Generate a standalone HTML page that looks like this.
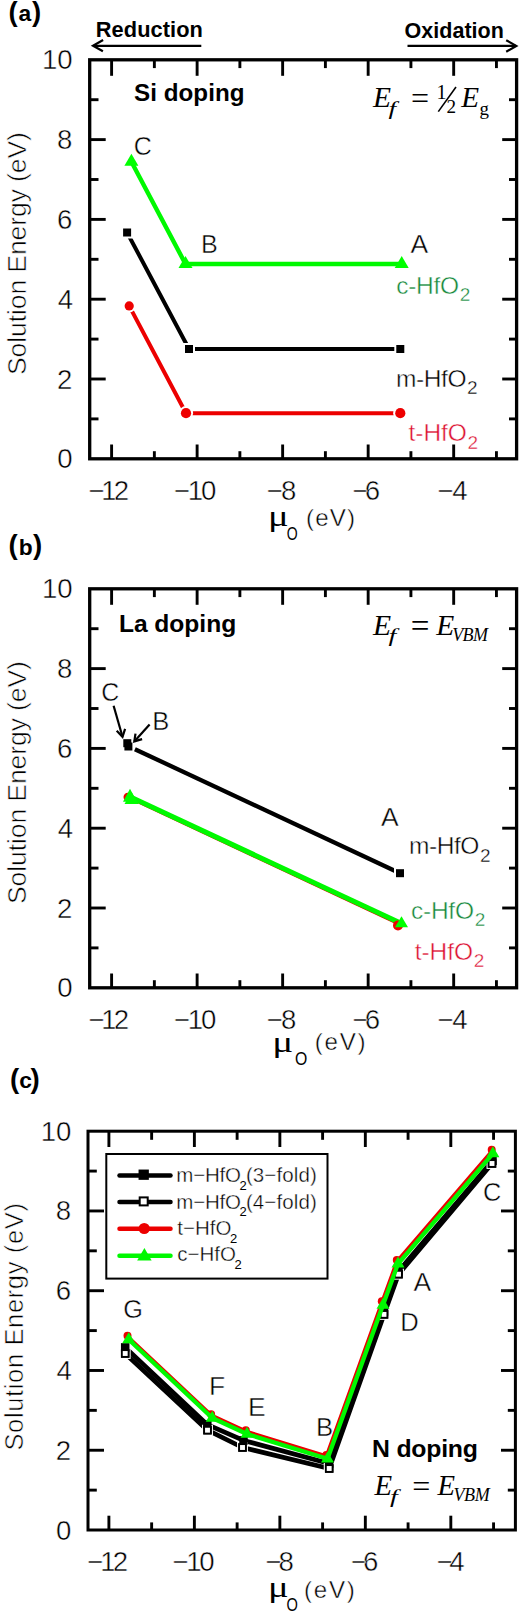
<!DOCTYPE html>
<html><head><meta charset="utf-8"><title>Solution energy vs oxygen chemical potential</title>
<style>html,body{margin:0;padding:0;background:#fff;} svg{display:block;}</style></head>
<body><svg width="520" height="1613" viewBox="0 0 520 1613">
<rect width="520" height="1613" fill="#fff"/>
<line x1="111.60" y1="59.80" x2="111.60" y2="75.80" stroke="#000" stroke-width="2.9" stroke-linecap="butt"/>
<line x1="111.60" y1="458.80" x2="111.60" y2="444.50" stroke="#000" stroke-width="2.9" stroke-linecap="butt"/>
<line x1="154.36" y1="59.80" x2="154.36" y2="68.10" stroke="#000" stroke-width="2.9" stroke-linecap="butt"/>
<line x1="154.36" y1="458.80" x2="154.36" y2="451.20" stroke="#000" stroke-width="2.9" stroke-linecap="butt"/>
<line x1="197.12" y1="59.80" x2="197.12" y2="75.80" stroke="#000" stroke-width="2.9" stroke-linecap="butt"/>
<line x1="197.12" y1="458.80" x2="197.12" y2="444.50" stroke="#000" stroke-width="2.9" stroke-linecap="butt"/>
<line x1="239.88" y1="59.80" x2="239.88" y2="68.10" stroke="#000" stroke-width="2.9" stroke-linecap="butt"/>
<line x1="239.88" y1="458.80" x2="239.88" y2="451.20" stroke="#000" stroke-width="2.9" stroke-linecap="butt"/>
<line x1="282.64" y1="59.80" x2="282.64" y2="75.80" stroke="#000" stroke-width="2.9" stroke-linecap="butt"/>
<line x1="282.64" y1="458.80" x2="282.64" y2="444.50" stroke="#000" stroke-width="2.9" stroke-linecap="butt"/>
<line x1="325.40" y1="59.80" x2="325.40" y2="68.10" stroke="#000" stroke-width="2.9" stroke-linecap="butt"/>
<line x1="325.40" y1="458.80" x2="325.40" y2="451.20" stroke="#000" stroke-width="2.9" stroke-linecap="butt"/>
<line x1="368.16" y1="59.80" x2="368.16" y2="75.80" stroke="#000" stroke-width="2.9" stroke-linecap="butt"/>
<line x1="368.16" y1="458.80" x2="368.16" y2="444.50" stroke="#000" stroke-width="2.9" stroke-linecap="butt"/>
<line x1="410.92" y1="59.80" x2="410.92" y2="68.10" stroke="#000" stroke-width="2.9" stroke-linecap="butt"/>
<line x1="410.92" y1="458.80" x2="410.92" y2="451.20" stroke="#000" stroke-width="2.9" stroke-linecap="butt"/>
<line x1="453.68" y1="59.80" x2="453.68" y2="75.80" stroke="#000" stroke-width="2.9" stroke-linecap="butt"/>
<line x1="453.68" y1="458.80" x2="453.68" y2="444.50" stroke="#000" stroke-width="2.9" stroke-linecap="butt"/>
<line x1="496.44" y1="59.80" x2="496.44" y2="68.10" stroke="#000" stroke-width="2.9" stroke-linecap="butt"/>
<line x1="496.44" y1="458.80" x2="496.44" y2="451.20" stroke="#000" stroke-width="2.9" stroke-linecap="butt"/>
<line x1="89.70" y1="418.90" x2="98.50" y2="418.90" stroke="#000" stroke-width="2.9" stroke-linecap="butt"/>
<line x1="516.60" y1="418.90" x2="509.00" y2="418.90" stroke="#000" stroke-width="2.9" stroke-linecap="butt"/>
<line x1="89.70" y1="379.00" x2="105.70" y2="379.00" stroke="#000" stroke-width="2.9" stroke-linecap="butt"/>
<line x1="516.60" y1="379.00" x2="502.20" y2="379.00" stroke="#000" stroke-width="2.9" stroke-linecap="butt"/>
<line x1="89.70" y1="339.10" x2="98.50" y2="339.10" stroke="#000" stroke-width="2.9" stroke-linecap="butt"/>
<line x1="516.60" y1="339.10" x2="509.00" y2="339.10" stroke="#000" stroke-width="2.9" stroke-linecap="butt"/>
<line x1="89.70" y1="299.20" x2="105.70" y2="299.20" stroke="#000" stroke-width="2.9" stroke-linecap="butt"/>
<line x1="516.60" y1="299.20" x2="502.20" y2="299.20" stroke="#000" stroke-width="2.9" stroke-linecap="butt"/>
<line x1="89.70" y1="259.30" x2="98.50" y2="259.30" stroke="#000" stroke-width="2.9" stroke-linecap="butt"/>
<line x1="516.60" y1="259.30" x2="509.00" y2="259.30" stroke="#000" stroke-width="2.9" stroke-linecap="butt"/>
<line x1="89.70" y1="219.40" x2="105.70" y2="219.40" stroke="#000" stroke-width="2.9" stroke-linecap="butt"/>
<line x1="516.60" y1="219.40" x2="502.20" y2="219.40" stroke="#000" stroke-width="2.9" stroke-linecap="butt"/>
<line x1="89.70" y1="179.50" x2="98.50" y2="179.50" stroke="#000" stroke-width="2.9" stroke-linecap="butt"/>
<line x1="516.60" y1="179.50" x2="509.00" y2="179.50" stroke="#000" stroke-width="2.9" stroke-linecap="butt"/>
<line x1="89.70" y1="139.60" x2="105.70" y2="139.60" stroke="#000" stroke-width="2.9" stroke-linecap="butt"/>
<line x1="516.60" y1="139.60" x2="502.20" y2="139.60" stroke="#000" stroke-width="2.9" stroke-linecap="butt"/>
<line x1="89.70" y1="99.70" x2="98.50" y2="99.70" stroke="#000" stroke-width="2.9" stroke-linecap="butt"/>
<line x1="516.60" y1="99.70" x2="509.00" y2="99.70" stroke="#000" stroke-width="2.9" stroke-linecap="butt"/>
<rect x="89.70" y="59.80" width="426.90" height="399.00" fill="none" stroke="#000" stroke-width="3.3"/>
<text x="57.30" y="468.30" font-family='"Liberation Sans", Arial, sans-serif' font-size="27.60" fill="#000" stroke="#fff" stroke-width="0.45">0</text>
<text x="57.05" y="388.62" font-family='"Liberation Sans", Arial, sans-serif' font-size="27.60" fill="#000" stroke="#fff" stroke-width="0.45">2</text>
<text x="57.80" y="308.70" font-family='"Liberation Sans", Arial, sans-serif' font-size="27.60" fill="#000" stroke="#fff" stroke-width="0.45">4</text>
<text x="57.05" y="228.90" font-family='"Liberation Sans", Arial, sans-serif' font-size="27.60" fill="#000" stroke="#fff" stroke-width="0.45">6</text>
<text x="57.05" y="149.10" font-family='"Liberation Sans", Arial, sans-serif' font-size="27.60" fill="#000" stroke="#fff" stroke-width="0.45">8</text>
<text x="41.95" y="69.30" font-family='"Liberation Sans", Arial, sans-serif' font-size="27.60" fill="#000" stroke="#fff" stroke-width="0.45">10</text>
<text x="88.15" y="500.40" font-family='"Liberation Sans", Arial, sans-serif' font-size="27.60" letter-spacing="-2.88" fill="#000" stroke="#fff" stroke-width="0.45">−12</text>
<text x="173.65" y="500.40" font-family='"Liberation Sans", Arial, sans-serif' font-size="27.60" letter-spacing="-2.05" fill="#000" stroke="#fff" stroke-width="0.45">−10</text>
<text x="266.55" y="500.40" font-family='"Liberation Sans", Arial, sans-serif' font-size="27.60" letter-spacing="-1.70" fill="#000" stroke="#fff" stroke-width="0.45">−8</text>
<text x="352.35" y="500.40" font-family='"Liberation Sans", Arial, sans-serif' font-size="27.60" letter-spacing="-3.70" fill="#000" stroke="#fff" stroke-width="0.45">−6</text>
<text x="437.35" y="500.40" font-family='"Liberation Sans", Arial, sans-serif' font-size="27.60" letter-spacing="-1.10" fill="#000" stroke="#fff" stroke-width="0.45">−4</text>
<text transform="translate(26.30,253.60) rotate(-90)" text-anchor="middle" font-family='"Liberation Sans", Arial, sans-serif' font-size="26.5" letter-spacing="-0.08" stroke="#fff" stroke-width="0.6">Solution Energy (eV)</text>
<text transform="translate(267.92,525.93) scale(1.300,1)" font-family='"Liberation Serif", "Times New Roman", serif' font-size="29.63" fill="#000">μ</text>
<text transform="translate(286.63,540.21) scale(0.737,1)" font-family='"Liberation Sans", Arial, sans-serif' font-size="19.08" fill="#000">O</text>
<text x="305.88" y="526.39" font-family='"Liberation Sans", Arial, sans-serif' font-size="24.13" letter-spacing="1.23" fill="#000" stroke="#fff" stroke-width="0.45">(eV)</text>
<text x="8.61" y="21.38" font-family='"Liberation Sans", Arial, sans-serif' font-size="27.56" font-weight="bold" fill="#000">(</text>
<text x="32.11" y="21.38" font-family='"Liberation Sans", Arial, sans-serif' font-size="27.56" font-weight="bold" fill="#000">)</text>
<text x="18.60" y="21.30" font-family='"Liberation Sans", Arial, sans-serif' font-size="22.80" font-weight="bold" fill="#000">a</text>
<text x="95.80" y="37.30" font-family='"Liberation Sans", Arial, sans-serif' font-size="21.80" font-weight="bold" letter-spacing="0.07" fill="#000">Reduction</text>
<text x="404.45" y="37.50" font-family='"Liberation Sans", Arial, sans-serif' font-size="21.50" font-weight="bold" letter-spacing="0.04" fill="#000">Oxidation</text>
<line x1="93.50" y1="45.80" x2="201.30" y2="45.80" stroke="#000" stroke-width="2.2" stroke-linecap="butt"/>
<polyline points="103.10,40.00 93.00,45.80 102.90,51.30" fill="none" stroke="#000" stroke-width="2.2" stroke-linejoin="miter" stroke-linecap="butt"/>
<line x1="407.50" y1="45.90" x2="515.80" y2="45.90" stroke="#000" stroke-width="2.2" stroke-linecap="butt"/>
<polyline points="506.20,40.20 516.30,45.90 506.20,51.70" fill="none" stroke="#000" stroke-width="2.2" stroke-linejoin="miter" stroke-linecap="butt"/>
<text x="134.00" y="100.80" font-family='"Liberation Sans", Arial, sans-serif' font-size="24.20" font-weight="bold" letter-spacing="0.04" fill="#000">Si doping</text>
<text x="373.02" y="107.10" font-family='"Liberation Serif", "Times New Roman", serif' font-size="29.47" font-style="italic" fill="#000">E</text>
<text transform="translate(388.53,114.67) scale(1.450,1)" font-family='"Liberation Serif", "Times New Roman", serif' font-size="18.96" font-style="italic" fill="#000">f</text>
<text x="410.94" y="109.45" font-family='"Liberation Serif", "Times New Roman", serif' font-size="32.04" fill="#000">=</text>
<text x="436.45" y="99.30" font-family='"Liberation Serif", "Times New Roman", serif' font-size="20.15" fill="#000">1</text>
<line x1="438.30" y1="111.60" x2="456.00" y2="87.00" stroke="#000" stroke-width="1.6" stroke-linecap="butt"/>
<text x="446.47" y="112.60" font-family='"Liberation Serif", "Times New Roman", serif' font-size="19.17" fill="#000">2</text>
<text x="461.16" y="107.20" font-family='"Liberation Serif", "Times New Roman", serif' font-size="29.16" font-style="italic" fill="#000">E</text>
<text x="479.42" y="114.62" font-family='"Liberation Serif", "Times New Roman", serif' font-size="18.97" fill="#000">g</text>
<polyline points="131.40,161.80 185.50,264.00 401.70,264.00" fill="none" stroke="#00f800" stroke-width="4.4" stroke-linejoin="round" stroke-linecap="butt"/>
<polyline points="127.10,232.50 189.00,349.00 400.30,349.00" fill="none" stroke="#000" stroke-width="4.0" stroke-linejoin="round" stroke-linecap="butt"/>
<polyline points="129.20,305.90 186.00,413.20 400.30,413.20" fill="none" stroke="#ec0000" stroke-width="4.0" stroke-linejoin="round" stroke-linecap="butt"/>
<polygon points="131.40,153.80 124.40,165.80 138.40,165.80" fill="#0f0"/>
<polygon points="185.50,256.00 178.50,268.00 192.50,268.00" fill="#0f0"/>
<polygon points="401.70,256.00 394.70,268.00 408.70,268.00" fill="#0f0"/>
<rect x="121.10" y="226.50" width="12.00" height="12.00" fill="#fff"/>
<rect x="123.10" y="228.50" width="8.00" height="8.00" fill="#000"/>
<rect x="183.00" y="343.00" width="12.00" height="12.00" fill="#fff"/>
<rect x="185.00" y="345.00" width="8.00" height="8.00" fill="#000"/>
<rect x="394.30" y="343.00" width="12.00" height="12.00" fill="#fff"/>
<rect x="396.30" y="345.00" width="8.00" height="8.00" fill="#000"/>
<circle cx="129.20" cy="305.90" r="6.60" fill="#fff"/>
<circle cx="129.20" cy="305.90" r="4.60" fill="#e00"/>
<circle cx="186.00" cy="413.20" r="7.10" fill="#fff"/>
<circle cx="186.00" cy="413.20" r="5.10" fill="#e00"/>
<circle cx="400.30" cy="413.20" r="7.10" fill="#fff"/>
<circle cx="400.30" cy="413.20" r="5.10" fill="#e00"/>
<text x="133.77" y="155.15" font-family='"Liberation Sans", Arial, sans-serif' font-size="25.02" fill="#000" stroke="#fff" stroke-width="0.45">C</text>
<text x="201.01" y="252.50" font-family='"Liberation Sans", Arial, sans-serif' font-size="25.16" fill="#000" stroke="#fff" stroke-width="0.45">B</text>
<text x="410.47" y="253.10" font-family='"Liberation Sans", Arial, sans-serif' font-size="26.47" fill="#000" stroke="#fff" stroke-width="0.45">A</text>
<text x="396.20" y="294.00" font-family='"Liberation Sans", Arial, sans-serif' font-size="24.50" letter-spacing="-0.28" fill="#15883a" stroke="#fff" stroke-width="0.45">c-HfO</text>
<text x="459.80" y="301.30" font-family='"Liberation Sans", Arial, sans-serif' font-size="19.00" fill="#15883a" stroke="#fff" stroke-width="0.36">2</text>
<text x="396.00" y="386.80" font-family='"Liberation Sans", Arial, sans-serif' font-size="24.50" letter-spacing="-0.40" fill="#000" stroke="#fff" stroke-width="0.45">m-HfO</text>
<text x="467.10" y="394.10" font-family='"Liberation Sans", Arial, sans-serif' font-size="19.00" fill="#000" stroke="#fff" stroke-width="0.36">2</text>
<text x="408.55" y="441.30" font-family='"Liberation Sans", Arial, sans-serif' font-size="24.50" letter-spacing="-0.06" fill="#dc1030" stroke="#fff" stroke-width="0.45">t-HfO</text>
<text x="467.50" y="448.60" font-family='"Liberation Sans", Arial, sans-serif' font-size="19.00" fill="#dc1030" stroke="#fff" stroke-width="0.36">2</text>
<line x1="111.60" y1="588.80" x2="111.60" y2="604.80" stroke="#000" stroke-width="2.9" stroke-linecap="butt"/>
<line x1="111.60" y1="987.80" x2="111.60" y2="973.50" stroke="#000" stroke-width="2.9" stroke-linecap="butt"/>
<line x1="154.36" y1="588.80" x2="154.36" y2="597.10" stroke="#000" stroke-width="2.9" stroke-linecap="butt"/>
<line x1="154.36" y1="987.80" x2="154.36" y2="980.20" stroke="#000" stroke-width="2.9" stroke-linecap="butt"/>
<line x1="197.12" y1="588.80" x2="197.12" y2="604.80" stroke="#000" stroke-width="2.9" stroke-linecap="butt"/>
<line x1="197.12" y1="987.80" x2="197.12" y2="973.50" stroke="#000" stroke-width="2.9" stroke-linecap="butt"/>
<line x1="239.88" y1="588.80" x2="239.88" y2="597.10" stroke="#000" stroke-width="2.9" stroke-linecap="butt"/>
<line x1="239.88" y1="987.80" x2="239.88" y2="980.20" stroke="#000" stroke-width="2.9" stroke-linecap="butt"/>
<line x1="282.64" y1="588.80" x2="282.64" y2="604.80" stroke="#000" stroke-width="2.9" stroke-linecap="butt"/>
<line x1="282.64" y1="987.80" x2="282.64" y2="973.50" stroke="#000" stroke-width="2.9" stroke-linecap="butt"/>
<line x1="325.40" y1="588.80" x2="325.40" y2="597.10" stroke="#000" stroke-width="2.9" stroke-linecap="butt"/>
<line x1="325.40" y1="987.80" x2="325.40" y2="980.20" stroke="#000" stroke-width="2.9" stroke-linecap="butt"/>
<line x1="368.16" y1="588.80" x2="368.16" y2="604.80" stroke="#000" stroke-width="2.9" stroke-linecap="butt"/>
<line x1="368.16" y1="987.80" x2="368.16" y2="973.50" stroke="#000" stroke-width="2.9" stroke-linecap="butt"/>
<line x1="410.92" y1="588.80" x2="410.92" y2="597.10" stroke="#000" stroke-width="2.9" stroke-linecap="butt"/>
<line x1="410.92" y1="987.80" x2="410.92" y2="980.20" stroke="#000" stroke-width="2.9" stroke-linecap="butt"/>
<line x1="453.68" y1="588.80" x2="453.68" y2="604.80" stroke="#000" stroke-width="2.9" stroke-linecap="butt"/>
<line x1="453.68" y1="987.80" x2="453.68" y2="973.50" stroke="#000" stroke-width="2.9" stroke-linecap="butt"/>
<line x1="496.44" y1="588.80" x2="496.44" y2="597.10" stroke="#000" stroke-width="2.9" stroke-linecap="butt"/>
<line x1="496.44" y1="987.80" x2="496.44" y2="980.20" stroke="#000" stroke-width="2.9" stroke-linecap="butt"/>
<line x1="89.70" y1="947.90" x2="98.50" y2="947.90" stroke="#000" stroke-width="2.9" stroke-linecap="butt"/>
<line x1="516.60" y1="947.90" x2="509.00" y2="947.90" stroke="#000" stroke-width="2.9" stroke-linecap="butt"/>
<line x1="89.70" y1="908.00" x2="105.70" y2="908.00" stroke="#000" stroke-width="2.9" stroke-linecap="butt"/>
<line x1="516.60" y1="908.00" x2="502.20" y2="908.00" stroke="#000" stroke-width="2.9" stroke-linecap="butt"/>
<line x1="89.70" y1="868.10" x2="98.50" y2="868.10" stroke="#000" stroke-width="2.9" stroke-linecap="butt"/>
<line x1="516.60" y1="868.10" x2="509.00" y2="868.10" stroke="#000" stroke-width="2.9" stroke-linecap="butt"/>
<line x1="89.70" y1="828.20" x2="105.70" y2="828.20" stroke="#000" stroke-width="2.9" stroke-linecap="butt"/>
<line x1="516.60" y1="828.20" x2="502.20" y2="828.20" stroke="#000" stroke-width="2.9" stroke-linecap="butt"/>
<line x1="89.70" y1="788.30" x2="98.50" y2="788.30" stroke="#000" stroke-width="2.9" stroke-linecap="butt"/>
<line x1="516.60" y1="788.30" x2="509.00" y2="788.30" stroke="#000" stroke-width="2.9" stroke-linecap="butt"/>
<line x1="89.70" y1="748.40" x2="105.70" y2="748.40" stroke="#000" stroke-width="2.9" stroke-linecap="butt"/>
<line x1="516.60" y1="748.40" x2="502.20" y2="748.40" stroke="#000" stroke-width="2.9" stroke-linecap="butt"/>
<line x1="89.70" y1="708.50" x2="98.50" y2="708.50" stroke="#000" stroke-width="2.9" stroke-linecap="butt"/>
<line x1="516.60" y1="708.50" x2="509.00" y2="708.50" stroke="#000" stroke-width="2.9" stroke-linecap="butt"/>
<line x1="89.70" y1="668.60" x2="105.70" y2="668.60" stroke="#000" stroke-width="2.9" stroke-linecap="butt"/>
<line x1="516.60" y1="668.60" x2="502.20" y2="668.60" stroke="#000" stroke-width="2.9" stroke-linecap="butt"/>
<line x1="89.70" y1="628.70" x2="98.50" y2="628.70" stroke="#000" stroke-width="2.9" stroke-linecap="butt"/>
<line x1="516.60" y1="628.70" x2="509.00" y2="628.70" stroke="#000" stroke-width="2.9" stroke-linecap="butt"/>
<rect x="89.70" y="588.80" width="426.90" height="399.00" fill="none" stroke="#000" stroke-width="3.3"/>
<text x="57.30" y="997.30" font-family='"Liberation Sans", Arial, sans-serif' font-size="27.60" fill="#000" stroke="#fff" stroke-width="0.45">0</text>
<text x="57.05" y="917.62" font-family='"Liberation Sans", Arial, sans-serif' font-size="27.60" fill="#000" stroke="#fff" stroke-width="0.45">2</text>
<text x="57.80" y="837.70" font-family='"Liberation Sans", Arial, sans-serif' font-size="27.60" fill="#000" stroke="#fff" stroke-width="0.45">4</text>
<text x="57.05" y="757.90" font-family='"Liberation Sans", Arial, sans-serif' font-size="27.60" fill="#000" stroke="#fff" stroke-width="0.45">6</text>
<text x="57.05" y="678.10" font-family='"Liberation Sans", Arial, sans-serif' font-size="27.60" fill="#000" stroke="#fff" stroke-width="0.45">8</text>
<text x="41.95" y="598.30" font-family='"Liberation Sans", Arial, sans-serif' font-size="27.60" fill="#000" stroke="#fff" stroke-width="0.45">10</text>
<text x="88.15" y="1029.40" font-family='"Liberation Sans", Arial, sans-serif' font-size="27.60" letter-spacing="-2.88" fill="#000" stroke="#fff" stroke-width="0.45">−12</text>
<text x="173.65" y="1029.40" font-family='"Liberation Sans", Arial, sans-serif' font-size="27.60" letter-spacing="-2.05" fill="#000" stroke="#fff" stroke-width="0.45">−10</text>
<text x="266.55" y="1029.40" font-family='"Liberation Sans", Arial, sans-serif' font-size="27.60" letter-spacing="-1.70" fill="#000" stroke="#fff" stroke-width="0.45">−8</text>
<text x="352.35" y="1029.40" font-family='"Liberation Sans", Arial, sans-serif' font-size="27.60" letter-spacing="-3.70" fill="#000" stroke="#fff" stroke-width="0.45">−6</text>
<text x="437.35" y="1029.40" font-family='"Liberation Sans", Arial, sans-serif' font-size="27.60" letter-spacing="-1.10" fill="#000" stroke="#fff" stroke-width="0.45">−4</text>
<text transform="translate(26.30,782.60) rotate(-90)" text-anchor="middle" font-family='"Liberation Sans", Arial, sans-serif' font-size="26.5" letter-spacing="-0.08" stroke="#fff" stroke-width="0.6">Solution Energy (eV)</text>
<text transform="translate(272.17,1052.33) scale(1.300,1)" font-family='"Liberation Serif", "Times New Roman", serif' font-size="30.07" fill="#000">μ</text>
<text transform="translate(294.95,1064.81) scale(0.829,1)" font-family='"Liberation Sans", Arial, sans-serif' font-size="19.08" fill="#000">O</text>
<text x="314.68" y="1049.79" font-family='"Liberation Sans", Arial, sans-serif' font-size="24.13" letter-spacing="1.80" fill="#000" stroke="#fff" stroke-width="0.45">(eV)</text>
<text x="8.47" y="554.46" font-family='"Liberation Sans", Arial, sans-serif' font-size="27.67" font-weight="bold" fill="#000">(</text>
<text x="32.92" y="554.46" font-family='"Liberation Sans", Arial, sans-serif' font-size="27.67" font-weight="bold" fill="#000">)</text>
<text x="18.70" y="554.80" font-family='"Liberation Sans", Arial, sans-serif' font-size="22.80" font-weight="bold" fill="#000">b</text>
<text x="118.90" y="632.40" font-family='"Liberation Sans", Arial, sans-serif' font-size="24.60" font-weight="bold" letter-spacing="-0.02" fill="#000">La doping</text>
<text x="373.07" y="634.60" font-family='"Liberation Serif", "Times New Roman", serif' font-size="29.62" font-style="italic" fill="#000">E</text>
<text transform="translate(388.52,642.10) scale(1.450,1)" font-family='"Liberation Serif", "Times New Roman", serif' font-size="19.29" font-style="italic" fill="#000">f</text>
<text x="410.72" y="637.37" font-family='"Liberation Serif", "Times New Roman", serif' font-size="33.12" fill="#000">=</text>
<text x="436.22" y="634.80" font-family='"Liberation Serif", "Times New Roman", serif' font-size="29.47" font-style="italic" fill="#000">E</text>
<text x="452.20" y="641.00" font-family='"Liberation Serif", "Times New Roman", serif' font-size="18.00" font-style="italic" letter-spacing="-0.62" fill="#000">VBM</text>
<polyline points="130.50,797.80 400.50,924.20" fill="none" stroke="#ec0000" stroke-width="4.0" stroke-linejoin="round" stroke-linecap="butt"/>
<polyline points="130.50,797.00 401.50,923.60" fill="none" stroke="#00f800" stroke-width="5.0" stroke-linejoin="round" stroke-linecap="butt"/>
<polyline points="134.90,749.20 400.00,873.20" fill="none" stroke="#000" stroke-width="4.3" stroke-linejoin="round" stroke-linecap="butt"/>
<circle cx="127.80" cy="797.00" r="4.30" fill="#e00"/>
<polygon points="130.00,788.83 123.00,801.83 137.00,801.83" fill="#0f0"/>
<polygon points="131.50,792.00 124.50,804.00 138.50,804.00" fill="#0f0"/>
<circle cx="398.00" cy="925.40" r="5.00" fill="#e00"/>
<polygon points="401.50,916.27 395.00,927.27 408.00,927.27" fill="#0f0"/>
<rect x="123.30" y="739.20" width="8.00" height="8.00" fill="#000"/>
<rect x="124.40" y="742.50" width="8.00" height="8.00" fill="#000"/>
<rect x="394.00" y="867.20" width="12.00" height="12.00" fill="#fff"/>
<rect x="396.00" y="869.20" width="8.00" height="8.00" fill="#000"/>
<polyline points="113.60,705.70 122.50,736.80" fill="none" stroke="#000" stroke-width="2.2" stroke-linejoin="round" stroke-linecap="butt"/>
<polyline points="116.70,730.80 122.50,736.80 125.10,728.80" fill="none" stroke="#000" stroke-width="2.2" stroke-linejoin="miter" stroke-linecap="butt"/>
<polyline points="149.60,724.40 134.30,741.40" fill="none" stroke="#000" stroke-width="2.2" stroke-linejoin="round" stroke-linecap="butt"/>
<polyline points="135.50,733.70 134.30,741.40 142.10,739.10" fill="none" stroke="#000" stroke-width="2.2" stroke-linejoin="miter" stroke-linecap="butt"/>
<text x="101.23" y="700.55" font-family='"Liberation Sans", Arial, sans-serif' font-size="24.88" fill="#000" stroke="#fff" stroke-width="0.45">C</text>
<text x="152.30" y="730.20" font-family='"Liberation Sans", Arial, sans-serif' font-size="25.60" fill="#000" stroke="#fff" stroke-width="0.45">B</text>
<text x="381.07" y="826.30" font-family='"Liberation Sans", Arial, sans-serif' font-size="26.47" fill="#000" stroke="#fff" stroke-width="0.45">A</text>
<text x="408.90" y="854.20" font-family='"Liberation Sans", Arial, sans-serif' font-size="24.50" letter-spacing="-0.40" fill="#000" stroke="#fff" stroke-width="0.45">m-HfO</text>
<text x="480.00" y="861.50" font-family='"Liberation Sans", Arial, sans-serif' font-size="19.00" fill="#000" stroke="#fff" stroke-width="0.36">2</text>
<text x="411.10" y="918.60" font-family='"Liberation Sans", Arial, sans-serif' font-size="24.50" letter-spacing="-0.28" fill="#15883a" stroke="#fff" stroke-width="0.45">c-HfO</text>
<text x="474.70" y="925.90" font-family='"Liberation Sans", Arial, sans-serif' font-size="19.00" fill="#15883a" stroke="#fff" stroke-width="0.36">2</text>
<text x="414.75" y="960.00" font-family='"Liberation Sans", Arial, sans-serif' font-size="24.50" letter-spacing="-0.06" fill="#dc1030" stroke="#fff" stroke-width="0.45">t-HfO</text>
<text x="473.70" y="967.30" font-family='"Liberation Sans", Arial, sans-serif' font-size="19.00" fill="#dc1030" stroke="#fff" stroke-width="0.36">2</text>
<line x1="108.90" y1="1131.20" x2="108.90" y2="1147.00" stroke="#000" stroke-width="2.9" stroke-linecap="butt"/>
<line x1="108.90" y1="1530.00" x2="108.90" y2="1515.70" stroke="#000" stroke-width="2.9" stroke-linecap="butt"/>
<line x1="151.64" y1="1131.20" x2="151.64" y2="1139.80" stroke="#000" stroke-width="2.9" stroke-linecap="butt"/>
<line x1="151.64" y1="1530.00" x2="151.64" y2="1522.40" stroke="#000" stroke-width="2.9" stroke-linecap="butt"/>
<line x1="194.38" y1="1131.20" x2="194.38" y2="1147.00" stroke="#000" stroke-width="2.9" stroke-linecap="butt"/>
<line x1="194.38" y1="1530.00" x2="194.38" y2="1515.70" stroke="#000" stroke-width="2.9" stroke-linecap="butt"/>
<line x1="237.12" y1="1131.20" x2="237.12" y2="1139.80" stroke="#000" stroke-width="2.9" stroke-linecap="butt"/>
<line x1="237.12" y1="1530.00" x2="237.12" y2="1522.40" stroke="#000" stroke-width="2.9" stroke-linecap="butt"/>
<line x1="279.86" y1="1131.20" x2="279.86" y2="1147.00" stroke="#000" stroke-width="2.9" stroke-linecap="butt"/>
<line x1="279.86" y1="1530.00" x2="279.86" y2="1515.70" stroke="#000" stroke-width="2.9" stroke-linecap="butt"/>
<line x1="322.60" y1="1131.20" x2="322.60" y2="1139.80" stroke="#000" stroke-width="2.9" stroke-linecap="butt"/>
<line x1="322.60" y1="1530.00" x2="322.60" y2="1522.40" stroke="#000" stroke-width="2.9" stroke-linecap="butt"/>
<line x1="365.34" y1="1131.20" x2="365.34" y2="1147.00" stroke="#000" stroke-width="2.9" stroke-linecap="butt"/>
<line x1="365.34" y1="1530.00" x2="365.34" y2="1515.70" stroke="#000" stroke-width="2.9" stroke-linecap="butt"/>
<line x1="408.08" y1="1131.20" x2="408.08" y2="1139.80" stroke="#000" stroke-width="2.9" stroke-linecap="butt"/>
<line x1="408.08" y1="1530.00" x2="408.08" y2="1522.40" stroke="#000" stroke-width="2.9" stroke-linecap="butt"/>
<line x1="450.82" y1="1131.20" x2="450.82" y2="1147.00" stroke="#000" stroke-width="2.9" stroke-linecap="butt"/>
<line x1="450.82" y1="1530.00" x2="450.82" y2="1515.70" stroke="#000" stroke-width="2.9" stroke-linecap="butt"/>
<line x1="493.56" y1="1131.20" x2="493.56" y2="1139.80" stroke="#000" stroke-width="2.9" stroke-linecap="butt"/>
<line x1="493.56" y1="1530.00" x2="493.56" y2="1522.40" stroke="#000" stroke-width="2.9" stroke-linecap="butt"/>
<line x1="88.00" y1="1490.12" x2="96.80" y2="1490.12" stroke="#000" stroke-width="2.9" stroke-linecap="butt"/>
<line x1="515.40" y1="1490.12" x2="507.80" y2="1490.12" stroke="#000" stroke-width="2.9" stroke-linecap="butt"/>
<line x1="88.00" y1="1450.24" x2="104.00" y2="1450.24" stroke="#000" stroke-width="2.9" stroke-linecap="butt"/>
<line x1="515.40" y1="1450.24" x2="501.00" y2="1450.24" stroke="#000" stroke-width="2.9" stroke-linecap="butt"/>
<line x1="88.00" y1="1410.36" x2="96.80" y2="1410.36" stroke="#000" stroke-width="2.9" stroke-linecap="butt"/>
<line x1="515.40" y1="1410.36" x2="507.80" y2="1410.36" stroke="#000" stroke-width="2.9" stroke-linecap="butt"/>
<line x1="88.00" y1="1370.48" x2="104.00" y2="1370.48" stroke="#000" stroke-width="2.9" stroke-linecap="butt"/>
<line x1="515.40" y1="1370.48" x2="501.00" y2="1370.48" stroke="#000" stroke-width="2.9" stroke-linecap="butt"/>
<line x1="88.00" y1="1330.60" x2="96.80" y2="1330.60" stroke="#000" stroke-width="2.9" stroke-linecap="butt"/>
<line x1="515.40" y1="1330.60" x2="507.80" y2="1330.60" stroke="#000" stroke-width="2.9" stroke-linecap="butt"/>
<line x1="88.00" y1="1290.72" x2="104.00" y2="1290.72" stroke="#000" stroke-width="2.9" stroke-linecap="butt"/>
<line x1="515.40" y1="1290.72" x2="501.00" y2="1290.72" stroke="#000" stroke-width="2.9" stroke-linecap="butt"/>
<line x1="88.00" y1="1250.84" x2="96.80" y2="1250.84" stroke="#000" stroke-width="2.9" stroke-linecap="butt"/>
<line x1="515.40" y1="1250.84" x2="507.80" y2="1250.84" stroke="#000" stroke-width="2.9" stroke-linecap="butt"/>
<line x1="88.00" y1="1210.96" x2="104.00" y2="1210.96" stroke="#000" stroke-width="2.9" stroke-linecap="butt"/>
<line x1="515.40" y1="1210.96" x2="501.00" y2="1210.96" stroke="#000" stroke-width="2.9" stroke-linecap="butt"/>
<line x1="88.00" y1="1171.08" x2="96.80" y2="1171.08" stroke="#000" stroke-width="2.9" stroke-linecap="butt"/>
<line x1="515.40" y1="1171.08" x2="507.80" y2="1171.08" stroke="#000" stroke-width="2.9" stroke-linecap="butt"/>
<rect x="88.00" y="1131.20" width="427.40" height="398.80" fill="none" stroke="#000" stroke-width="3.0"/>
<text x="56.10" y="1539.50" font-family='"Liberation Sans", Arial, sans-serif' font-size="27.60" fill="#000" stroke="#fff" stroke-width="0.45">0</text>
<text x="55.85" y="1459.87" font-family='"Liberation Sans", Arial, sans-serif' font-size="27.60" fill="#000" stroke="#fff" stroke-width="0.45">2</text>
<text x="56.60" y="1379.98" font-family='"Liberation Sans", Arial, sans-serif' font-size="27.60" fill="#000" stroke="#fff" stroke-width="0.45">4</text>
<text x="55.85" y="1300.22" font-family='"Liberation Sans", Arial, sans-serif' font-size="27.60" fill="#000" stroke="#fff" stroke-width="0.45">6</text>
<text x="55.85" y="1220.46" font-family='"Liberation Sans", Arial, sans-serif' font-size="27.60" fill="#000" stroke="#fff" stroke-width="0.45">8</text>
<text x="40.75" y="1140.70" font-family='"Liberation Sans", Arial, sans-serif' font-size="27.60" fill="#000" stroke="#fff" stroke-width="0.45">10</text>
<text x="87.10" y="1571.30" font-family='"Liberation Sans", Arial, sans-serif' font-size="27.60" letter-spacing="-2.90" fill="#000" stroke="#fff" stroke-width="0.45">−12</text>
<text x="172.35" y="1571.30" font-family='"Liberation Sans", Arial, sans-serif' font-size="27.60" letter-spacing="-2.25" fill="#000" stroke="#fff" stroke-width="0.45">−10</text>
<text x="265.35" y="1571.30" font-family='"Liberation Sans", Arial, sans-serif' font-size="27.60" letter-spacing="-3.00" fill="#000" stroke="#fff" stroke-width="0.45">−8</text>
<text x="350.85" y="1571.30" font-family='"Liberation Sans", Arial, sans-serif' font-size="27.60" letter-spacing="-4.00" fill="#000" stroke="#fff" stroke-width="0.45">−6</text>
<text x="436.55" y="1571.30" font-family='"Liberation Sans", Arial, sans-serif' font-size="27.60" letter-spacing="-3.40" fill="#000" stroke="#fff" stroke-width="0.45">−4</text>
<text transform="translate(22.80,1326.50) rotate(-90)" text-anchor="middle" font-family='"Liberation Sans", Arial, sans-serif' font-size="25.5" letter-spacing="0.64" stroke="#fff" stroke-width="0.6">Solution Energy (eV)</text>
<text transform="translate(268.12,1597.13) scale(1.300,1)" font-family='"Liberation Serif", "Times New Roman", serif' font-size="29.63" fill="#000">μ</text>
<text transform="translate(286.60,1611.01) scale(0.791,1)" font-family='"Liberation Sans", Arial, sans-serif' font-size="18.52" fill="#000">O</text>
<text x="303.88" y="1597.69" font-family='"Liberation Sans", Arial, sans-serif' font-size="24.13" letter-spacing="1.80" fill="#000" stroke="#fff" stroke-width="0.45">(eV)</text>
<text x="9.97" y="1087.56" font-family='"Liberation Sans", Arial, sans-serif' font-size="27.67" font-weight="bold" fill="#000">(</text>
<text x="30.62" y="1087.56" font-family='"Liberation Sans", Arial, sans-serif' font-size="27.67" font-weight="bold" fill="#000">)</text>
<text x="19.18" y="1088.10" font-family='"Liberation Sans", Arial, sans-serif' font-size="22.80" font-weight="bold" fill="#000">c</text>
<rect x="106.3" y="1154" width="221.2" height="124.6" fill="#fff" stroke="#000" stroke-width="2"/>
<line x1="119.50" y1="1175.50" x2="170.50" y2="1175.50" stroke="#000" stroke-width="4.5" stroke-linecap="round"/>
<rect x="138.55" y="1169.55" width="10.30" height="10.30" fill="#000"/>
<text x="176.25" y="1182.40" font-family='"Liberation Sans", Arial, sans-serif' font-size="20.50" letter-spacing="-0.19" fill="#000" stroke="#fff" stroke-width="0.38">m−HfO</text>
<text x="239.55" y="1189.90" font-family='"Liberation Sans", Arial, sans-serif' font-size="13.00" fill="#000">2</text>
<text x="245.95" y="1182.40" font-family='"Liberation Sans", Arial, sans-serif' font-size="20.50" letter-spacing="0.10" fill="#000" stroke="#fff" stroke-width="0.38">(3−fold)</text>
<line x1="119.50" y1="1202.10" x2="170.50" y2="1202.10" stroke="#000" stroke-width="4.5" stroke-linecap="round"/>
<rect x="139.70" y="1197.40" width="8.00" height="8.00" fill="#fff" stroke="#000" stroke-width="2"/>
<text x="176.25" y="1208.80" font-family='"Liberation Sans", Arial, sans-serif' font-size="20.50" letter-spacing="-0.19" fill="#000" stroke="#fff" stroke-width="0.38">m−HfO</text>
<text x="239.55" y="1216.30" font-family='"Liberation Sans", Arial, sans-serif' font-size="13.00" fill="#000">2</text>
<text x="245.95" y="1208.80" font-family='"Liberation Sans", Arial, sans-serif' font-size="20.50" letter-spacing="0.10" fill="#000" stroke="#fff" stroke-width="0.38">(4−fold)</text>
<line x1="119.50" y1="1228.80" x2="170.50" y2="1228.80" stroke="#ec0000" stroke-width="4.5" stroke-linecap="round"/>
<circle cx="144.20" cy="1228.50" r="5.60" fill="#ec0000"/>
<text x="177.25" y="1235.20" font-family='"Liberation Sans", Arial, sans-serif' font-size="20.50" fill="#000" stroke="#fff" stroke-width="0.38">t−HfO</text>
<text x="230.05" y="1242.70" font-family='"Liberation Sans", Arial, sans-serif' font-size="13.00" fill="#000">2</text>
<line x1="119.50" y1="1255.80" x2="170.50" y2="1255.80" stroke="#00f800" stroke-width="4.5" stroke-linecap="round"/>
<polygon points="144.40,1247.97 137.15,1260.47 151.65,1260.47" fill="#00f800"/>
<text x="177.25" y="1261.40" font-family='"Liberation Sans", Arial, sans-serif' font-size="20.50" fill="#000" stroke="#fff" stroke-width="0.38">c−HfO</text>
<text x="234.55" y="1268.90" font-family='"Liberation Sans", Arial, sans-serif' font-size="13.00" fill="#000">2</text>
<polyline points="125.20,1353.50 207.50,1430.20 242.50,1447.50 329.20,1468.50 384.00,1314.40 398.50,1274.20 492.00,1163.50" fill="none" stroke="#000" stroke-width="4.7" stroke-linejoin="round" stroke-linecap="butt"/>
<polyline points="125.20,1347.40 207.30,1424.60 243.50,1440.40 329.20,1463.50 384.00,1311.50 398.50,1271.20 492.50,1160.80" fill="none" stroke="#000" stroke-width="4.7" stroke-linejoin="round" stroke-linecap="butt"/>
<rect x="119.75" y="1348.05" width="10.90" height="10.90" fill="#fff"/>
<rect x="120.95" y="1349.25" width="8.50" height="8.50" fill="#000"/>
<rect x="202.05" y="1424.75" width="10.90" height="10.90" fill="#fff"/>
<rect x="203.25" y="1425.95" width="8.50" height="8.50" fill="#000"/>
<rect x="237.05" y="1442.05" width="10.90" height="10.90" fill="#fff"/>
<rect x="238.25" y="1443.25" width="8.50" height="8.50" fill="#000"/>
<rect x="323.75" y="1463.05" width="10.90" height="10.90" fill="#fff"/>
<rect x="324.95" y="1464.25" width="8.50" height="8.50" fill="#000"/>
<rect x="378.55" y="1308.95" width="10.90" height="10.90" fill="#fff"/>
<rect x="379.75" y="1310.15" width="8.50" height="8.50" fill="#000"/>
<rect x="393.05" y="1268.75" width="10.90" height="10.90" fill="#fff"/>
<rect x="394.25" y="1269.95" width="8.50" height="8.50" fill="#000"/>
<rect x="486.55" y="1158.05" width="10.90" height="10.90" fill="#fff"/>
<rect x="487.75" y="1159.25" width="8.50" height="8.50" fill="#000"/>
<rect x="120.95" y="1343.15" width="8.50" height="8.50" fill="#000"/>
<rect x="203.05" y="1420.35" width="8.50" height="8.50" fill="#000"/>
<rect x="239.25" y="1436.15" width="8.50" height="8.50" fill="#000"/>
<rect x="324.95" y="1459.25" width="8.50" height="8.50" fill="#000"/>
<rect x="379.75" y="1307.25" width="8.50" height="8.50" fill="#000"/>
<rect x="394.25" y="1266.95" width="8.50" height="8.50" fill="#000"/>
<rect x="488.25" y="1156.55" width="8.50" height="8.50" fill="#000"/>
<rect x="121.85" y="1350.15" width="6.70" height="6.70" fill="#fff" stroke="#000" stroke-width="1.8"/>
<rect x="204.15" y="1426.85" width="6.70" height="6.70" fill="#fff" stroke="#000" stroke-width="1.8"/>
<rect x="239.15" y="1444.15" width="6.70" height="6.70" fill="#fff" stroke="#000" stroke-width="1.8"/>
<rect x="325.85" y="1465.15" width="6.70" height="6.70" fill="#fff" stroke="#000" stroke-width="1.8"/>
<rect x="380.65" y="1311.05" width="6.70" height="6.70" fill="#fff" stroke="#000" stroke-width="1.8"/>
<rect x="395.15" y="1270.85" width="6.70" height="6.70" fill="#fff" stroke="#000" stroke-width="1.8"/>
<rect x="488.65" y="1160.15" width="6.70" height="6.70" fill="#fff" stroke="#000" stroke-width="1.8"/>
<circle cx="127.50" cy="1335.70" r="4.00" fill="#ec0000"/>
<circle cx="211.10" cy="1414.20" r="4.00" fill="#ec0000"/>
<circle cx="245.80" cy="1430.20" r="4.00" fill="#ec0000"/>
<circle cx="326.30" cy="1455.00" r="4.00" fill="#ec0000"/>
<circle cx="381.80" cy="1301.20" r="4.00" fill="#ec0000"/>
<circle cx="396.80" cy="1260.00" r="4.00" fill="#ec0000"/>
<circle cx="491.70" cy="1149.80" r="4.00" fill="#ec0000"/>
<polyline points="127.90,1337.30 211.50,1415.80 246.20,1431.80 326.70,1456.60 382.20,1302.80 397.20,1261.60 492.10,1151.40" fill="none" stroke="#ec0000" stroke-width="4.3" stroke-linejoin="round" stroke-linecap="butt"/>
<polyline points="128.70,1339.50 212.30,1418.00 247.00,1434.00 327.50,1458.80 383.00,1305.00 398.00,1263.80 492.90,1153.60" fill="none" stroke="#00f800" stroke-width="4.3" stroke-linejoin="round" stroke-linecap="butt"/>
<polygon points="128.70,1332.17 122.20,1343.17 135.20,1343.17" fill="#00f800"/>
<polygon points="212.30,1410.67 205.80,1421.67 218.80,1421.67" fill="#00f800"/>
<polygon points="247.00,1426.67 240.50,1437.67 253.50,1437.67" fill="#00f800"/>
<polygon points="327.50,1451.47 321.00,1462.47 334.00,1462.47" fill="#00f800"/>
<polygon points="383.00,1297.67 376.50,1308.67 389.50,1308.67" fill="#00f800"/>
<polygon points="398.00,1256.47 391.50,1267.47 404.50,1267.47" fill="#00f800"/>
<polygon points="492.90,1146.27 486.40,1157.27 499.40,1157.27" fill="#00f800"/>
<text x="123.30" y="1318.15" font-family='"Liberation Sans", Arial, sans-serif' font-size="25.30" fill="#000" stroke="#fff" stroke-width="0.45">G</text>
<text x="209.12" y="1394.80" font-family='"Liberation Sans", Arial, sans-serif' font-size="26.47" fill="#000" stroke="#fff" stroke-width="0.45">F</text>
<text x="247.92" y="1415.50" font-family='"Liberation Sans", Arial, sans-serif' font-size="26.47" fill="#000" stroke="#fff" stroke-width="0.45">E</text>
<text x="316.10" y="1435.80" font-family='"Liberation Sans", Arial, sans-serif' font-size="25.75" fill="#000" stroke="#fff" stroke-width="0.45">B</text>
<text x="400.30" y="1331.40" font-family='"Liberation Sans", Arial, sans-serif' font-size="25.60" fill="#000" stroke="#fff" stroke-width="0.45">D</text>
<text x="413.47" y="1290.50" font-family='"Liberation Sans", Arial, sans-serif' font-size="26.47" fill="#000" stroke="#fff" stroke-width="0.45">A</text>
<text x="483.10" y="1201.45" font-family='"Liberation Sans", Arial, sans-serif' font-size="25.30" fill="#000" stroke="#fff" stroke-width="0.45">C</text>
<text x="372.10" y="1456.60" font-family='"Liberation Sans", Arial, sans-serif' font-size="24.80" font-weight="bold" letter-spacing="-0.23" fill="#000">N doping</text>
<text x="374.55" y="1494.70" font-family='"Liberation Serif", "Times New Roman", serif' font-size="28.85" font-style="italic" fill="#000">E</text>
<text transform="translate(390.02,1502.50) scale(1.450,1)" font-family='"Liberation Serif", "Times New Roman", serif' font-size="19.29" font-style="italic" fill="#000">f</text>
<text x="412.24" y="1497.45" font-family='"Liberation Serif", "Times New Roman", serif' font-size="32.04" fill="#000">=</text>
<text x="437.40" y="1495.10" font-family='"Liberation Serif", "Times New Roman", serif' font-size="28.70" font-style="italic" fill="#000">E</text>
<text x="453.50" y="1501.30" font-family='"Liberation Serif", "Times New Roman", serif' font-size="18.00" font-style="italic" letter-spacing="-0.43" fill="#000">VBM</text>
</svg></body></html>
